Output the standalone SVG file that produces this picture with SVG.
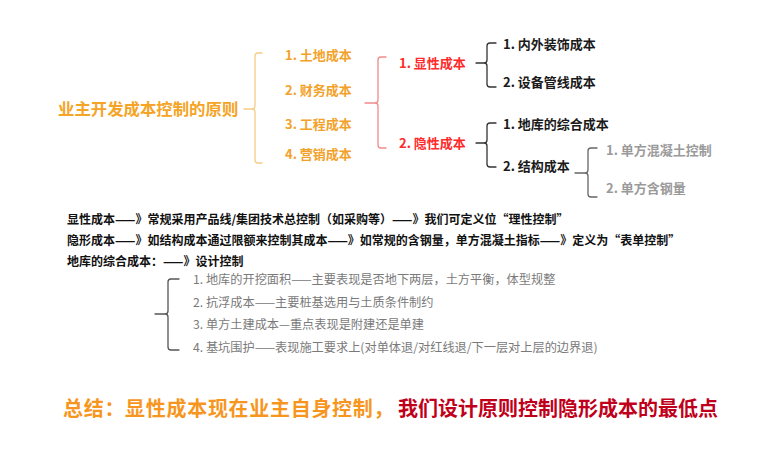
<svg xmlns="http://www.w3.org/2000/svg" width="760" height="457" viewBox="0 0 760 457">
<style>
text{font-family:"Noto Sans CJK SC","Microsoft YaHei",sans-serif;font-weight:700}
.t{font-size:16.4px;fill:#F5A425}
.o{font-size:13px;fill:#F2A22A}
.r{font-size:13px;fill:#FF2A2A}
.k{font-size:13px;fill:#1A1A1A}
.g{font-size:13px;fill:#9A9A9A}
.l{font-size:12px;fill:#111}
.m{font-size:12.2px;fill:#7A7A7A;font-weight:400}
.s{font-size:20px}
.br{fill:none;stroke-width:1.3;stroke-linecap:round}
</style>
<rect width="760" height="457" fill="#fff"/>
<g id="connectors">
<path class="br" stroke="#F6CB85" d="M262,53 H258 Q255,53 255,56 V106 Q255,109 252,109 H244 M252,109 Q255,109 255,112 V160 Q255,163 258,163 H262"/>
<path class="br" stroke="#F28A8A" d="M386,57 H381 Q378,57 378,60 V100 Q378,103 375,103 H365 M375,103 Q378,103 378,106 V145 Q378,148 381,148 H386"/>
<path class="br" stroke="#333" d="M496,43 H490 Q487,43 487,46 V60 Q487,63 484,63 H476 M484,63 Q487,63 487,66 V84 Q487,87 490,87 H496"/>
<path class="br" stroke="#333" d="M496,123 H490 Q487,123 487,126 V140 Q487,143 484,143 H476 M484,143 Q487,143 487,146 V164 Q487,167 490,167 H496"/>
<path class="br" stroke="#666" d="M597,148 H591 Q588,148 588,151 V170 Q588,173 585,173 H575 M585,173 Q588,173 588,176 V194 Q588,197 591,197 H597"/>
<path class="br" stroke="#555" d="M179,279 H171 Q168,279 168,282 V311 Q168,314 165,314 H155 M165,314 Q168,314 168,317 V347 Q168,350 171,350 H179"/>
</g>
<g id="root"><text class="t" x="58" y="115">业主开发成本控制的原则</text></g>
<g id="n-land"><text class="o" x="285" y="60">1. 土地成本</text></g>
<g id="n-finance"><text class="o" x="285" y="95">2. 财务成本</text></g>
<g id="n-eng"><text class="o" x="285" y="129">3. 工程成本</text></g>
<g id="n-sales"><text class="o" x="285" y="159">4. 营销成本</text></g>
<g id="n-explicit"><text class="r" x="399" y="68">1. 显性成本</text></g>
<g id="n-implicit"><text class="r" x="399" y="148">2. 隐性成本</text></g>
<g id="n-deco"><text class="k" x="503" y="49">1. 内外装饰成本</text></g>
<g id="n-equip"><text class="k" x="503" y="87">2. 设备管线成本</text></g>
<g id="n-garage"><text class="k" x="503" y="129">1. 地库的综合成本</text></g>
<g id="n-struct"><text class="k" x="503" y="171">2. 结构成本</text></g>
<g id="n-concrete"><text class="g" x="606" y="155">1. 单方混凝土控制</text></g>
<g id="n-steel"><text class="g" x="606" y="193">2. 单方含钢量</text></g>
<g id="notes">
<text class="l" x="67" y="224">显性成本——》常规采用产品线/集团技术总控制（如采购等）——》我们可定义位“理性控制”</text>
<text class="l" x="67" y="245">隐形成本——》如结构成本通过限额来控制其成本——》如常规的含钢量，单方混凝土指标——》定义为“表单控制”</text>
<text class="l" x="67" y="266">地库的综合成本：——》设计控制</text>
</g>
<g id="list">
<text class="m" x="193" y="284">1. 地库的开挖面积——主要表现是否地下两层，土方平衡，体型规整</text>
<text class="m" x="193" y="307">2. 抗浮成本——主要桩基选用与土质条件制约</text>
<text class="m" x="193" y="329">3. 单方土建成本—重点表现是附建还是单建</text>
<text class="m" x="193" y="352">4. 基坑围护——表现施工要求上(对单体退/对红线退/下一层对上层的边界退)</text>
</g>
<g id="summary">
<text class="s" x="63" y="416" fill="#F7961E" letter-spacing="0.7">总结：显性成本现在业主自身控制，</text>
<text class="s" x="398" y="416" fill="#C0001A">我们设计原则控制隐形成本的最低点</text>
</g>
</svg>
